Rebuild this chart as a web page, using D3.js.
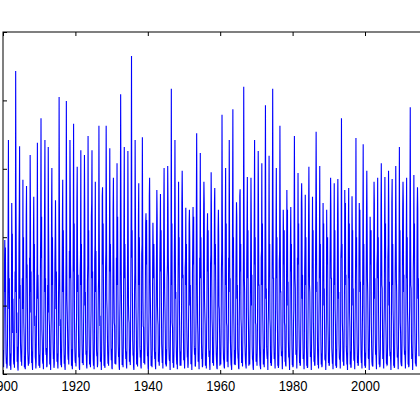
<!DOCTYPE html>
<html>
<head>
<meta charset="utf-8">
<script src="https://cdn.jsdelivr.net/npm/d3@7"></script>
<style>
html,body{margin:0;padding:0;background:#fff;overflow:hidden;}
svg{display:block;}
</style>
</head>
<body>
<svg id="chart" width="420" height="420"></svg>
<script>
// ---- data ----
const startYear = 1900;
const xTickYears = [1900, 1920, 1940, 1960, 1980, 2000, 2020];
const xLabelYears = [1900, 1920, 1940, 1960, 1980, 2000];
const yTicks = [0, 100, 200, 300, 400, 500];
// monthly values, one row per year (Jan..Dec), 1900..2014
const monthlyValues = [
[35,18,10,40,95,160,196,120,185,90,30,15],
[22,8,14,55,130,210,342,150,95,140,48,12],
[30,12,6,28,110,250,180,205,60,110,70,20],
[14,25,9,70,150,120,443,260,170,60,90,18],
[40,10,5,35,80,190,240,333,110,130,45,30],
[18,30,12,60,140,95,284,130,200,75,55,10],
[26,9,7,45,100,230,275,140,160,95,35,22],
[12,20,15,30,170,120,320,240,90,150,60,16],
[33,14,6,50,90,205,259,150,190,70,85,25],
[20,8,18,80,120,160,338,110,145,105,40,12],
[28,16,9,35,150,210,374,170,230,65,50,20],
[15,22,7,65,100,180,260,342,120,140,35,28],
[38,10,12,40,130,90,332,220,160,80,70,14],
[19,27,6,55,85,240,301,130,200,110,45,22],
[24,9,15,75,160,200,254,180,95,150,60,18],
[30,18,8,30,110,150,405,250,140,70,80,25],
[13,24,10,60,140,230,284,120,210,125,40,15],
[27,11,6,45,95,170,399,200,110,90,65,30],
[21,29,14,70,180,140,342,260,160,135,50,12],
[36,12,7,38,120,215,366,150,220,75,38,20],
[16,20,11,58,90,250,303,180,120,145,72,24],
[29,9,6,42,150,175,327,130,190,95,45,16],
[18,26,13,68,110,210,320,240,100,120,60,28],
[34,13,8,33,135,160,348,170,210,80,42,14],
[22,19,10,62,95,230,250,327,140,150,68,22],
[12,28,7,48,165,190,281,120,180,100,35,26],
[31,10,15,72,120,140,363,210,130,70,85,18],
[20,23,6,36,100,260,273,160,220,130,50,12],
[26,12,9,66,155,180,363,240,110,95,60,30],
[15,30,12,44,125,210,330,150,190,140,40,20],
[37,9,7,58,85,240,287,200,120,75,70,15],
[19,24,14,38,170,160,308,130,230,115,45,25],
[28,11,6,75,110,200,409,260,150,90,58,13],
[14,27,10,50,140,230,332,140,190,135,38,22],
[33,15,8,40,95,175,326,220,100,80,75,18],
[21,20,13,68,160,250,465,170,210,120,50,28],
[26,10,6,46,120,150,342,240,140,95,62,14],
[17,29,11,60,100,230,279,130,200,150,40,24],
[35,12,8,36,175,190,346,210,110,70,68,16],
[20,22,14,72,130,220,235,160,225,125,48,26],
[28,9,6,50,90,260,287,200,130,90,55,12],
[13,26,10,40,150,221,180,140,190,140,35,22],
[32,14,7,64,115,180,269,230,100,80,72,18],
[22,19,12,45,165,210,263,150,210,115,45,28],
[16,30,8,70,100,240,301,180,120,95,60,14],
[36,11,14,38,140,160,304,250,170,135,40,22],
[19,23,6,58,95,200,417,130,220,75,68,16],
[27,10,10,42,170,230,342,210,110,120,50,26],
[14,28,7,66,120,180,281,160,200,90,38,12],
[33,13,13,48,100,250,297,240,140,145,62,20],
[21,20,8,36,155,170,243,130,190,80,48,24],
[25,9,15,72,110,220,240,200,100,130,70,15],
[15,26,6,50,145,190,244,160,230,95,40,28],
[38,12,11,40,90,240,352,220,130,75,58,18],
[20,22,7,68,170,160,323,140,200,140,45,22],
[28,10,13,45,120,230,281,250,110,90,72,13],
[13,29,8,60,100,200,235,150,210,125,38,25],
[34,14,6,38,160,175,295,230,140,80,65,16],
[22,19,12,70,130,250,272,160,190,135,50,28],
[17,9,7,44,95,210,240,200,100,95,60,12],
[31,25,14,62,150,180,379,240,160,120,42,22],
[19,11,8,40,115,230,301,130,220,75,70,18],
[27,28,10,66,170,160,342,210,120,140,48,26],
[14,12,6,48,100,240,387,170,200,90,55,14],
[35,20,13,36,140,200,251,230,110,130,38,24],
[21,9,7,72,120,260,270,150,190,80,68,16],
[26,27,11,50,90,180,420,250,140,120,45,28],
[16,13,8,42,160,220,288,140,210,95,62,12],
[32,22,14,68,110,170,287,220,100,145,40,22],
[20,10,6,46,145,240,342,160,200,75,72,18],
[29,26,12,38,100,200,326,240,130,130,50,25],
[13,11,7,64,170,180,308,130,220,90,58,14],
[36,19,10,44,120,250,393,210,110,125,40,28],
[22,28,6,70,95,160,319,170,190,80,66,16],
[18,12,13,40,150,230,417,250,140,140,48,22],
[30,21,8,58,115,210,301,140,200,95,60,12],
[15,9,14,48,165,180,363,220,120,120,42,26],
[33,25,7,36,100,240,200,160,210,75,70,18],
[21,13,11,66,140,269,190,240,100,135,50,24],
[26,20,6,50,120,200,244,150,190,90,38,14],
[14,10,12,72,95,220,348,210,140,125,64,28],
[35,27,8,42,170,160,294,170,220,80,45,16],
[19,12,14,60,110,250,279,240,110,145,58,22],
[28,22,7,38,150,190,262,130,200,95,40,12],
[16,9,10,68,125,230,303,220,130,120,70,25],
[32,26,6,46,100,180,259,160,210,75,48,18],
[22,13,13,40,165,240,354,250,120,135,62,28],
[13,20,8,64,115,200,304,140,190,90,42,14],
[30,10,12,48,140,250,180,220,100,125,66,22],
[20,28,6,36,90,240,170,160,200,80,50,16],
[25,12,14,70,160,210,287,240,140,140,38,26],
[15,21,7,44,120,180,279,130,210,95,72,12],
[36,9,11,60,100,230,285,220,110,120,45,24],
[21,26,8,40,170,190,374,170,190,75,60,18],
[28,13,13,66,130,269,200,250,130,145,40,28],
[14,22,6,48,95,220,272,140,220,90,68,14],
[33,10,10,38,150,260,200,210,100,125,50,22],
[19,27,7,72,115,180,345,160,200,80,42,16],
[26,12,14,46,165,250,200,240,120,135,64,26],
[16,20,8,58,100,210,336,130,190,95,48,12],
[31,9,12,40,140,230,297,220,140,120,70,24],
[22,28,6,68,120,230,180,160,210,75,40,18],
[13,12,11,44,90,200,281,250,110,140,58,28],
[35,21,7,62,160,180,287,140,200,90,45,14],
[20,10,13,38,130,240,308,210,130,125,66,22],
[27,26,8,70,100,220,288,170,220,80,50,16],
[15,13,14,48,170,190,297,240,100,135,38,26],
[32,20,6,40,115,250,285,130,190,95,72,12],
[21,9,10,66,145,200,304,220,140,120,45,24],
[25,27,7,44,95,170,332,160,210,75,60,18],
[14,12,12,60,165,240,281,250,120,145,42,28],
[34,22,8,38,120,210,287,140,200,90,68,14],
[18,10,13,72,100,230,390,210,130,125,50,22],
[29,26,6,46,150,180,291,170,220,80,40,16],
[16,13,11,58,130,240,273,240,110,140,64,26]
];

// ---- build series ----
const series = [];
monthlyValues.forEach((row, i) => {
  row.forEach((v, m) => series.push({t: startYear + i + m / 12, v: v}));
});

// ---- layout ----
const svg = d3.select("#chart");
const padL = 3, padT = 32, padB = 374, padR = 437.4;
const x = d3.scaleLinear().domain([1900, 2020]).range([padL, padR]);
const y = d3.scaleLinear().domain([0, 500]).range([padB, padT]);

svg.append("defs").append("clipPath").attr("id", "clip")
  .append("rect").attr("x", padL).attr("y", padT)
  .attr("width", padR - padL).attr("height", padB - padT);

svg.append("path")
  .datum(series)
  .attr("clip-path", "url(#clip)")
  .attr("fill", "none")
  .attr("stroke", "#0000ff")
  .attr("stroke-width", 1.1)
  .attr("d", d3.line().x(d => x(d.t)).y(d => y(d.v)));

// frame
svg.append("rect")
  .attr("x", padL).attr("y", padT)
  .attr("width", padR - padL).attr("height", padB - padT)
  .attr("fill", "none").attr("stroke", "#000").attr("stroke-width", 1);

// bottom axis (ticks inward)
const gB = svg.append("g").attr("transform", `translate(0,${padB})`)
  .call(d3.axisBottom(x).tickValues(xTickYears)
    .tickFormat(d => xLabelYears.includes(d) ? d3.format("d")(d) : "")
    .tickSize(-4).tickSizeOuter(0));
gB.select(".domain").remove();
gB.selectAll("line").attr("stroke", "#000");
gB.selectAll("text")
  .attr("y", 0).attr("dy", null)
  .attr("transform", "translate(0,16.5) scale(1,1.15)")
  .attr("fill", "#000")
  .style("font-family", "'Liberation Sans', Arial, sans-serif")
  .style("font-size", "13px");

// top axis (ticks inward, no labels)
const gT = svg.append("g").attr("transform", `translate(0,${padT})`)
  .call(d3.axisTop(x).tickValues(xTickYears).tickFormat("").tickSize(-4).tickSizeOuter(0));
gT.select(".domain").remove();
gT.selectAll("line").attr("stroke", "#000");

// left axis (ticks inward)
const gL = svg.append("g").attr("transform", `translate(${padL},0)`)
  .call(d3.axisLeft(y).tickValues(yTicks).tickFormat("").tickSize(-4).tickSizeOuter(0));
gL.select(".domain").remove();
gL.selectAll("line").attr("stroke", "#000");
</script>
</body>
</html>
